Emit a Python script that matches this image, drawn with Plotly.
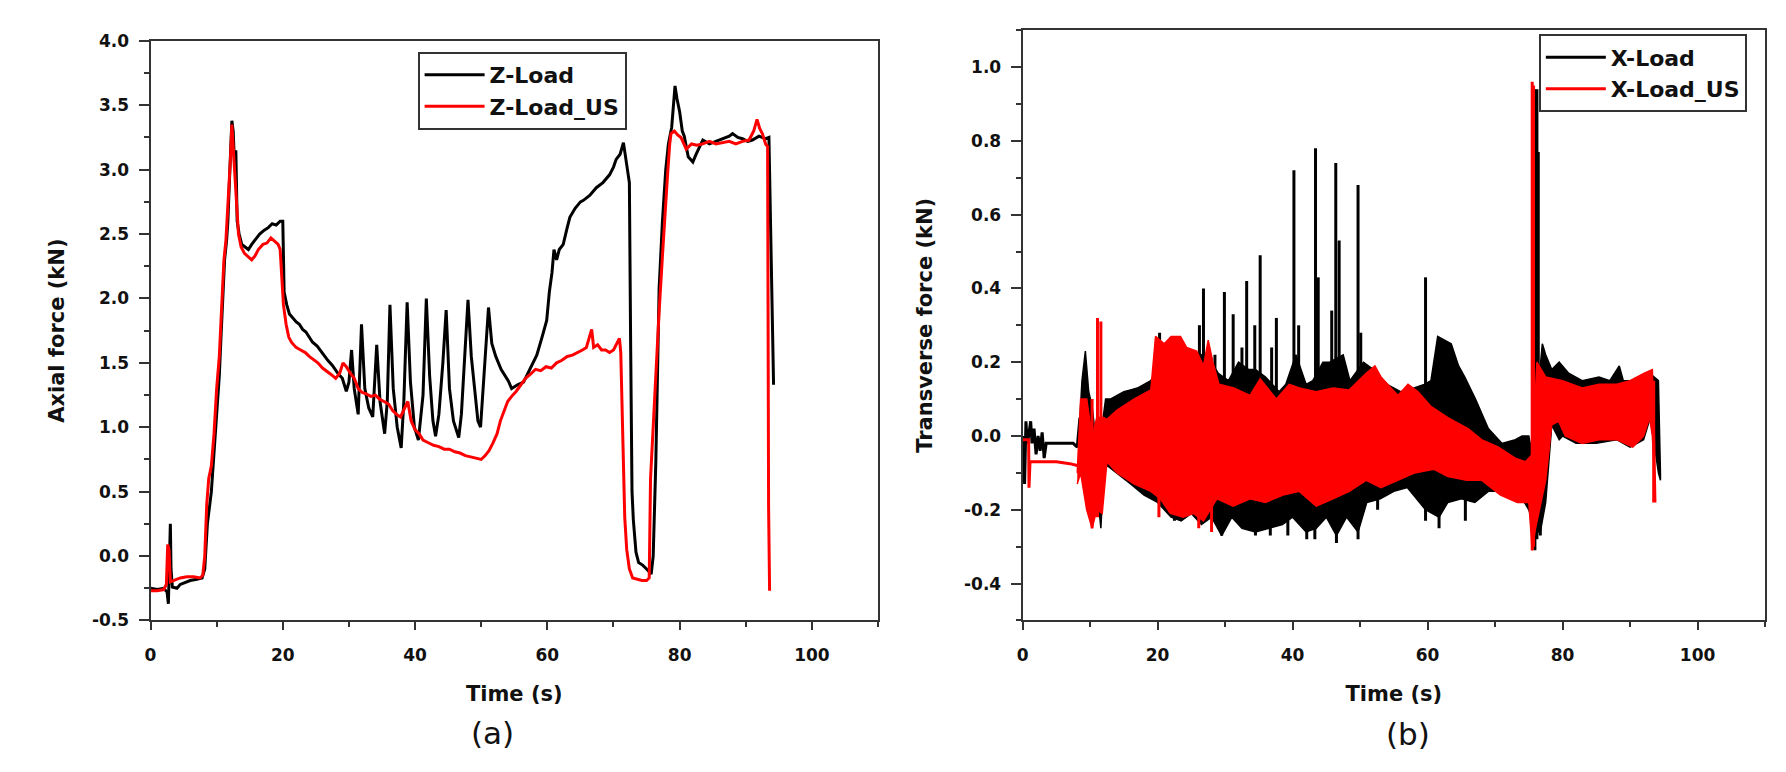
import plotly.graph_objects as go

# ---------------- (a) Axial force ----------------
za_t = [0.0, 1.0, 2.0, 2.5, 2.7, 2.8, 3.0, 3.1, 3.3, 4.0, 4.5, 5.0, 6.0, 7.0, 7.8, 8.2, 8.6, 9.2, 9.6, 10.0,
        10.4, 10.7, 11.0, 11.2, 11.5, 11.7, 12.0, 12.3, 12.5, 12.7, 12.9, 13.1, 13.4, 13.8, 14.3, 14.8, 15.3,
        15.8, 16.5, 17.2, 17.8, 18.4, 19.0, 19.6, 20.0, 20.2, 20.6, 21.0, 21.5, 22.0, 22.5, 23.0, 23.5, 24.0,
        24.5, 25.2, 26.0, 26.8, 27.5, 28.3, 29.0, 29.6, 30.0, 30.4, 30.8, 31.4, 31.9, 32.4, 33.0, 33.6, 34.2,
        34.7, 35.4, 35.8, 36.2, 36.7, 37.3, 37.9, 38.3, 38.8, 39.3, 39.9, 40.5, 41.2, 41.7, 42.2, 42.7, 43.1,
        43.6, 44.2, 44.7, 45.2, 45.8, 46.6, 47.0, 47.5, 48.0, 48.5, 49.0, 49.5, 49.9, 50.5, 51.1, 51.6, 52.2,
        53.0, 53.6, 54.1, 54.6, 55.5, 56.4, 57.4, 58.4, 59.2, 59.9, 60.3, 60.7, 61.0, 61.4, 61.8, 62.4, 63.0,
        63.4, 64.2, 65.0, 65.4, 66.4, 67.4, 68.4, 69.4, 70.0, 70.4, 71.0, 71.5, 71.8, 72.1, 72.4, 72.6, 72.8,
        73.0, 73.4, 73.8, 74.4, 75.0, 75.7, 76.0, 76.4, 76.9, 77.4, 77.9, 78.3, 78.8, 79.3, 79.6, 80.0, 80.4,
        80.7, 81.3, 82.0, 82.5, 83.5, 84.5, 85.5, 86.5, 87.5, 88.0, 88.8, 89.5, 90.3, 91.0, 92.0, 93.0, 93.5,
        93.7, 94.0, 94.2]
za_v = [-0.25, -0.26, -0.25, -0.28, -0.37, -0.2, 0.25, -0.1, -0.24, -0.25, -0.22, -0.21, -0.19, -0.18, -0.17,
        -0.1, 0.25, 0.5, 0.8, 1.05, 1.4, 1.75, 2.1, 2.3, 2.45, 2.6, 3.0, 3.38, 3.3, 3.05, 3.15, 2.6, 2.5, 2.42,
        2.4, 2.38, 2.42, 2.45, 2.5, 2.53, 2.55, 2.58, 2.57, 2.6, 2.6, 2.05, 1.95, 1.88, 1.85, 1.82, 1.8, 1.76,
        1.74, 1.7, 1.66, 1.63, 1.57, 1.52, 1.48, 1.42, 1.38, 1.28, 1.35, 1.6, 1.3, 1.1, 1.8, 1.3, 1.15, 1.08,
        1.64, 1.2, 0.95, 1.2, 1.95, 1.3, 1.0, 0.84, 1.2, 1.97, 1.35, 1.0, 0.9, 1.25, 2.0, 1.4, 1.05, 0.93, 1.1,
        1.5, 1.91, 1.3, 1.05, 0.92, 1.1, 1.6, 1.99, 1.55, 1.3, 1.05, 1.0, 1.5, 1.93, 1.65, 1.55, 1.45, 1.4,
        1.36, 1.3, 1.33, 1.35, 1.45, 1.56, 1.7, 1.83, 2.05, 2.2, 2.38, 2.3, 2.38, 2.42, 2.55, 2.63, 2.7, 2.75,
        2.76, 2.8, 2.86, 2.9, 2.96, 3.02, 3.08, 3.12, 3.21, 3.1, 3.0, 2.9, 1.6, 0.5, 0.28, 0.03, -0.05, -0.07,
        -0.1, -0.14, 0.0, 0.73, 2.08, 2.6, 3.0, 3.2, 3.33, 3.65, 3.55, 3.45, 3.3, 3.26, 3.1, 3.06, 3.12, 3.23,
        3.2, 3.22, 3.24, 3.26, 3.28, 3.25, 3.24, 3.22, 3.23, 3.26, 3.24, 3.25, 2.7, 1.8, 1.33]

zus_t = [0.0, 1.0, 2.0, 2.4, 2.6, 2.8, 3.0, 3.5, 4.5, 5.5, 6.5, 7.5, 7.9, 8.2, 8.5, 8.8, 9.2, 9.6, 10.0, 10.4,
         10.8, 11.1, 11.4, 11.8, 12.1, 12.3, 12.5, 12.7, 13.0, 13.3, 13.7, 14.2, 14.8, 15.3, 15.8, 16.3, 17.0,
         17.6, 18.2, 18.8, 19.3, 19.6, 19.9, 20.1, 20.5, 20.9, 21.3, 22.0, 22.7, 23.4, 24.0, 24.7, 25.3, 26.0,
         26.6, 27.3, 28.0, 28.6, 29.1, 29.6, 30.2, 30.8, 31.4, 32.0, 32.6, 33.3, 34.0, 34.6, 35.3, 36.0, 36.6,
         37.2, 37.8, 38.4, 38.9, 39.4, 40.0, 40.6, 41.2, 42.0, 42.8, 43.6, 44.4, 45.2, 46.0, 46.8, 47.6, 48.4,
         49.2, 50.0, 50.6, 51.2, 51.8, 52.4, 52.9, 53.4, 54.0, 54.6, 55.3, 56.0, 56.7, 57.4, 58.2, 59.0, 59.8,
         60.6, 61.4, 62.2, 63.0, 63.8, 64.6, 65.3, 65.9, 66.4, 66.7, 67.0, 67.6, 68.2, 68.8, 69.4, 70.0, 70.6,
         70.9, 71.1, 71.3, 71.5, 71.7, 72.0, 72.4, 72.9, 73.5, 74.3, 75.0, 75.4, 75.6, 76.0, 76.4, 76.9, 77.4,
         77.8, 78.2, 78.5, 78.7, 79.2, 79.7, 80.2, 81.0, 81.8, 82.6, 83.5, 84.5, 85.5, 86.5, 87.5, 88.5, 89.5,
         90.5, 91.2, 91.7, 92.1, 92.5, 93.0, 93.3, 93.45, 93.6]
zus_v = [-0.27, -0.27, -0.26, -0.22, 0.09, 0.05, -0.2, -0.19, -0.17, -0.16, -0.16, -0.17, -0.15, 0.0, 0.4,
         0.6, 0.7, 0.95, 1.3, 1.55, 2.0, 2.3, 2.45, 2.8, 3.1, 3.35, 3.2, 3.0, 2.75, 2.5, 2.4, 2.35, 2.32, 2.3,
         2.33, 2.38, 2.42, 2.43, 2.47, 2.44, 2.42, 2.38, 2.1, 1.95, 1.8, 1.7, 1.66, 1.62, 1.6, 1.58, 1.55, 1.52,
         1.5, 1.46, 1.44, 1.41, 1.38, 1.42, 1.5, 1.47, 1.42, 1.38, 1.3, 1.27, 1.26, 1.24, 1.25, 1.22, 1.2, 1.18,
         1.13, 1.1, 1.08, 1.15, 1.2, 1.05, 0.98, 0.95, 0.9, 0.88, 0.86, 0.85, 0.83, 0.83, 0.81, 0.8, 0.78, 0.77,
         0.76, 0.75, 0.78, 0.82, 0.88, 0.95, 1.05, 1.12, 1.2, 1.24, 1.28, 1.33, 1.38, 1.41, 1.45, 1.44, 1.47,
         1.46, 1.5, 1.52, 1.55, 1.56, 1.58, 1.6, 1.62, 1.7, 1.76, 1.62, 1.64, 1.6, 1.6, 1.58, 1.6, 1.66, 1.69,
         1.58, 1.2, 0.85, 0.3, 0.05, -0.1, -0.17, -0.18, -0.19, -0.19, -0.17, 0.6, 1.0, 1.45, 1.9, 2.33, 2.7,
         2.98, 3.2, 3.28, 3.3, 3.27, 3.25, 3.16, 3.2, 3.19, 3.2, 3.22, 3.2, 3.21, 3.22, 3.2, 3.22, 3.23, 3.3,
         3.39, 3.32, 3.28, 3.2, 3.18, 0.38, -0.27]

# ---------------- (b) Transverse force ----------------
# X-Load (black): quiet start, oscillation band envelope, and individual spikes
xl_quiet_t = [0.0, 0.3, 0.5, 0.7, 0.9, 1.2, 1.4, 1.7, 2.0, 2.3, 2.6, 2.9, 3.2, 3.5, 4.5, 5.5, 6.5, 7.5, 8.1, 8.5]
xl_quiet_v = [0.0, -0.13, 0.04, -0.02, 0.0, 0.04, -0.02, 0.02, -0.05, 0.0, -0.04, 0.01, -0.06, -0.02, -0.02,
              -0.02, -0.02, -0.02, -0.03, 0.05]
xl_hi_t = [8.5, 8.8, 9.3, 9.8, 10.3, 10.8, 11.3, 11.8, 12.3, 13.0, 14.0, 15.0, 16.0, 17.0, 18.0, 19.0, 19.6,
           20.3, 21.5, 22.5, 23.5, 24.5, 25.5, 26.5, 28.0, 29.0, 30.5, 32.0, 33.5, 34.5, 36.0, 38.0, 39.0, 40.5,
           42.0, 43.0, 44.5, 45.5, 47.5, 48.5, 50.5, 52.0, 54.0, 56.0, 58.0, 59.5, 60.5, 61.5, 63.5, 64.6, 65.5,
           67.1, 69.0, 71.0, 73.0, 74.0, 75.0, 75.5, 77.0, 77.5, 78.4, 79.5, 80.9, 82.9, 85.4, 87.0, 88.4, 89.0,
           90.9, 92.9, 94.2, 94.5]
xl_hi_v = [0.05, 0.15, 0.23, 0.12, 0.08, 0.0, 0.05, 0.03, 0.1, 0.1, 0.11, 0.12, 0.125, 0.13, 0.14, 0.15, 0.17,
           0.2, 0.22, 0.2, 0.24, 0.22, 0.2, 0.22, 0.2, 0.17, 0.15, 0.2, 0.18, 0.18, 0.16, 0.12, 0.14, 0.22, 0.14,
           0.15, 0.2, 0.2, 0.22, 0.15, 0.2, 0.18, 0.14, 0.12, 0.13, 0.14, 0.15, 0.27, 0.25, 0.19, 0.16, 0.1, 0.02,
           -0.02, -0.01, 0.0, 0.0, -0.05, 0.25, 0.22, 0.18, 0.2, 0.17, 0.15, 0.16, 0.15, 0.19, 0.15, 0.15, 0.17,
           0.15, -0.1]
xl_lo_t = [8.5, 9.0, 9.8, 10.0, 10.8, 11.6, 12.0, 12.5, 14.0, 16.0, 18.0, 20.0, 22.0, 23.5, 25.0, 26.5, 28.0,
           29.5, 31.0, 32.5, 34.5, 36.5, 38.5, 40.0, 42.0, 43.5, 45.0, 46.5, 48.0, 49.7, 51.0, 53.0, 55.0, 57.0,
           59.7, 61.7, 63.0, 65.0, 67.0, 69.0, 71.0, 73.0, 74.0, 75.0, 76.0, 76.7, 77.5, 78.4, 79.5, 80.0, 82.0,
           85.0, 88.0, 90.0, 92.0, 93.0, 93.6, 94.2, 94.5]
xl_lo_v = [-0.05, -0.1, -0.15, -0.17, -0.1, -0.25, -0.1, -0.08, -0.1, -0.13, -0.16, -0.18, -0.22, -0.23, -0.21,
           -0.24, -0.22, -0.27, -0.22, -0.25, -0.26, -0.25, -0.24, -0.22, -0.26, -0.25, -0.22, -0.27, -0.22,
           -0.26, -0.18, -0.17, -0.15, -0.14, -0.2, -0.22, -0.18, -0.17, -0.18, -0.15, -0.15, -0.16, -0.17, -0.2,
           -0.26, -0.26, -0.18, 0.03, -0.01, 0.0, -0.02, -0.02, -0.01, -0.03, -0.01, 0.05, -0.02, -0.1, -0.12]
xl_spk_t = [20.3, 22.5, 26.2, 26.8, 28.5, 29.5, 29.9, 31.2, 32.5, 33.2, 34.4, 34.5, 35.2, 36.7, 36.9, 37.6,
            39.3, 40.2, 40.9, 42.1, 43.3, 43.4, 43.8, 45.8, 46.4, 46.5, 46.9, 49.7, 50.1, 52.6, 59.7, 61.7,
            65.6, 75.9, 76.2, 76.4, 76.7]
xl_spk_lo = [0.0, -0.23, -0.1, -0.15, -0.1, -0.27, -0.15, -0.1, -0.1, -0.15, -0.1, -0.27, -0.15, -0.27, -0.1,
             -0.15, -0.27, -0.2, -0.1, -0.28, -0.28, -0.2, -0.1, -0.1, -0.2, -0.29, -0.1, -0.28, -0.1, -0.2,
             -0.23, -0.25, -0.23, -0.31, -0.28, -0.2, -0.27]
xl_spk_hi = [0.28, 0.0, 0.30, 0.40, 0.22, 0.0, 0.39, 0.33, 0.24, 0.42, 0.30, 0.0, 0.49, 0.0, 0.24, 0.32, 0.0,
             0.72, 0.30, 0.0, 0.0, 0.78, 0.43, 0.34, 0.74, 0.0, 0.53, 0.68, 0.28, 0.0, 0.43, 0.0, 0.0, 0.94,
             0.94, 0.77, 0.0]

# X-Load_US (red)
xus_quiet_t = [0.0, 0.5, 0.9, 0.95, 1.1, 3.0, 5.0, 7.0, 8.1]
xus_quiet_v = [-0.01, -0.01, -0.01, -0.14, -0.07, -0.07, -0.07, -0.075, -0.08]
xus_hi_t = [8.1, 8.6, 9.5, 10.3, 11.0, 12.0, 12.5, 14.0, 16.5, 19.0, 19.7, 21.0, 22.0, 23.4, 24.3, 25.8, 26.8,
            27.5, 28.2, 29.1, 31.3, 33.7, 35.2, 37.6, 39.5, 41.0, 43.5, 46.0, 48.4, 50.9, 52.2, 53.1, 55.6, 57.1,
            58.6, 60.5, 63.0, 66.0, 68.0, 70.5, 73.0, 74.5, 75.5, 76.2, 77.5, 80.0, 82.9, 85.4, 88.0, 90.0, 92.1,
            93.3, 93.6, 93.8]
xus_hi_v = [-0.1, 0.1, 0.1, 0.0, 0.05, 0.05, 0.045, 0.07, 0.1, 0.125, 0.27, 0.25, 0.27, 0.27, 0.24, 0.23, 0.19,
            0.26, 0.2, 0.14, 0.13, 0.11, 0.155, 0.1, 0.14, 0.13, 0.12, 0.13, 0.125, 0.17, 0.19, 0.16, 0.11, 0.14,
            0.12, 0.08, 0.05, 0.02, -0.01, -0.03, -0.06, -0.07, -0.05, 0.2, 0.16, 0.15, 0.13, 0.14, 0.14, 0.15,
            0.17, 0.18, 0.0, -0.18]
xus_lo_t = [8.1, 8.6, 9.5, 10.3, 11.0, 11.8, 12.5, 14.0, 16.5, 19.0, 20.4, 21.9, 23.8, 25.3, 26.8, 28.8, 31.2,
            33.7, 36.0, 38.6, 41.0, 43.5, 46.0, 48.4, 50.9, 53.1, 55.6, 58.1, 60.9, 63.0, 65.8, 68.0, 70.8, 73.3,
            75.0, 75.5, 76.0, 77.5, 78.4, 79.4, 80.4, 82.9, 85.4, 88.0, 90.4, 92.0, 92.9, 93.3, 93.8]
xus_lo_v = [-0.13, -0.1, -0.2, -0.25, -0.2, -0.21, -0.07, -0.1, -0.13, -0.15, -0.17, -0.21, -0.22, -0.21, -0.23,
            -0.17, -0.19, -0.17, -0.18, -0.16, -0.15, -0.19, -0.17, -0.15, -0.12, -0.14, -0.12, -0.1, -0.09,
            -0.11, -0.12, -0.12, -0.16, -0.18, -0.18, -0.31, -0.25, -0.12, 0.03, 0.04, 0.0, -0.02, -0.01, -0.01,
            -0.03, 0.0, 0.05, 0.0, -0.18]
xus_spk_t = [10.3, 11.1, 11.6, 20.2, 26.1, 28.0, 75.5, 75.7, 93.5]
xus_spk_lo = [-0.25, -0.22, -0.2, -0.22, -0.25, -0.26, -0.31, -0.3, -0.18]
xus_spk_hi = [0.1, 0.32, 0.31, 0.1, 0.1, 0.1, 0.96, 0.95, 0.15]

# ---------------- ticks ----------------
x_ticks = [0, 20, 40, 60, 80, 100]
x_ticklabels = ["0", "20", "40", "60", "80", "100"]
ya_ticks = [-0.5, 0.0, 0.5, 1.0, 1.5, 2.0, 2.5, 3.0, 3.5, 4.0]
ya_ticklabels = ["-0.5", "0.0", "0.5", "1.0", "1.5", "2.0", "2.5", "3.0", "3.5", "4.0"]
yb_ticks = [-0.4, -0.2, 0.0, 0.2, 0.4, 0.6, 0.8, 1.0]
yb_ticklabels = ["-0.4", "-0.2", "0.0", "0.2", "0.4", "0.6", "0.8", "1.0"]

BLACK = "#000000"
RED = "#ff0000"
FRAME = "#333333"


def spikes(ts, lo, hi):
    xs, ys = [], []
    for t, a, b in zip(ts, lo, hi):
        xs += [t, t, None]
        ys += [a, b, None]
    return xs, ys


fig = go.Figure()

# (a)
fig.add_trace(go.Scatter(x=za_t, y=za_v, mode="lines", name="Z-Load",
                         line=dict(color=BLACK, width=3), xaxis="x", yaxis="y", legend="legend"))
fig.add_trace(go.Scatter(x=zus_t, y=zus_v, mode="lines", name="Z-Load_US",
                         line=dict(color=RED, width=3), xaxis="x", yaxis="y", legend="legend"))

# (b) black
fig.add_trace(go.Scatter(x=xl_hi_t + xl_lo_t[::-1], y=xl_hi_v + xl_lo_v[::-1], mode="lines",
                         fill="toself", fillcolor=BLACK, line=dict(color=BLACK, width=1.5),
                         showlegend=False, legendgroup="xl", xaxis="x2", yaxis="y2"))
sx, sy = spikes(xl_spk_t, xl_spk_lo, xl_spk_hi)
fig.add_trace(go.Scatter(x=sx, y=sy, mode="lines", line=dict(color=BLACK, width=3),
                         showlegend=False, legendgroup="xl", xaxis="x2", yaxis="y2"))
fig.add_trace(go.Scatter(x=xl_quiet_t, y=xl_quiet_v, mode="lines", name="X-Load",
                         line=dict(color=BLACK, width=3), legendgroup="xl",
                         xaxis="x2", yaxis="y2", legend="legend2"))
# (b) red
fig.add_trace(go.Scatter(x=xus_hi_t + xus_lo_t[::-1], y=xus_hi_v + xus_lo_v[::-1], mode="lines",
                         fill="toself", fillcolor=RED, line=dict(color=RED, width=1.5),
                         showlegend=False, legendgroup="xus", xaxis="x2", yaxis="y2"))
sx, sy = spikes(xus_spk_t, xus_spk_lo, xus_spk_hi)
fig.add_trace(go.Scatter(x=sx, y=sy, mode="lines", line=dict(color=RED, width=3),
                         showlegend=False, legendgroup="xus", xaxis="x2", yaxis="y2"))
fig.add_trace(go.Scatter(x=xus_quiet_t, y=xus_quiet_v, mode="lines", name="X-Load_US",
                         line=dict(color=RED, width=3), legendgroup="xus",
                         xaxis="x2", yaxis="y2", legend="legend2"))

W, H = 1786, 772
tickfont = dict(family="DejaVu Sans", size=17, color="#111111", weight="bold")
titlefont = dict(family="DejaVu Sans", size=21, color="#111111", weight="bold")
legfont = dict(family="DejaVu Sans", size=22, color="#111111", weight="bold")


def xaxis_cfg(domain, anchor):
    return dict(domain=domain, anchor=anchor, range=[0, 110], tickmode="array", tickvals=x_ticks,
                ticktext=x_ticklabels, ticks="outside", ticklen=8, tickwidth=2, tickcolor=FRAME,
                minor=dict(tickmode="linear", tick0=0, dtick=10, ticks="outside", ticklen=5,
                           tickwidth=2, tickcolor=FRAME),
                showline=True, linecolor=FRAME, linewidth=2, mirror=True, showgrid=False,
                zeroline=False, tickfont=tickfont, ticklabelstandoff=10,
                title=dict(text="Time (s)", font=titlefont, standoff=22))


def yaxis_cfg(domain, anchor, rng, tv, tt, minor_dtick, title, standoff):
    return dict(domain=domain, anchor=anchor, range=rng, tickmode="array", tickvals=tv, ticktext=tt,
                ticks="outside", ticklen=10, tickwidth=2, tickcolor=FRAME,
                minor=dict(tickmode="linear", tick0=0, dtick=minor_dtick, ticks="outside", ticklen=5,
                           tickwidth=2, tickcolor=FRAME),
                showline=True, linecolor=FRAME, linewidth=2, mirror=True, showgrid=False,
                zeroline=False, tickfont=tickfont, ticklabelstandoff=6,
                title=dict(text=title, font=titlefont, standoff=standoff))


fig.update_layout(
    width=W, height=H, margin=dict(l=0, r=0, t=0, b=0),
    paper_bgcolor="white", plot_bgcolor="white",
    xaxis=xaxis_cfg([145 / W, 875 / W], "y"),
    yaxis=yaxis_cfg([1 - 626.7 / H, 1 - 31.7 / H], "x", [-0.5, 4.0], ya_ticks, ya_ticklabels, 0.25,
                    "Axial force (kN)", 22),
    xaxis2=xaxis_cfg([1020 / W, 1765 / W], "y2"),
    yaxis2=yaxis_cfg([1 - 626.7 / H, 1 - 20.7 / H], "x2", [-0.5, 1.1], yb_ticks, yb_ticklabels, 0.1,
                     "Transverse force (kN)", 26),
    legend=dict(x=413 / W, y=1 - 43 / H, xanchor="left", yanchor="top", bgcolor="white",
                bordercolor=FRAME, borderwidth=2, itemwidth=60,
                font=legfont, tracegroupgap=0),
    legend2=dict(x=1538 / W, y=1 - 25 / H, xanchor="left", yanchor="top", bgcolor="white",
                 bordercolor=FRAME, borderwidth=2, itemwidth=60,
                 font=legfont, tracegroupgap=0),
    annotations=[
        dict(text="(a)", x=488 / W, y=1 - 742 / H, xref="paper", yref="paper", showarrow=False,
             xanchor="center", yanchor="middle", font=dict(family="DejaVu Sans", size=31, color="#111111")),
        dict(text="(b)", x=1407 / W, y=1 - 743 / H, xref="paper", yref="paper", showarrow=False,
             xanchor="center", yanchor="middle", font=dict(family="DejaVu Sans", size=31, color="#111111")),
    ],
)

fig.write_html("out.html")
